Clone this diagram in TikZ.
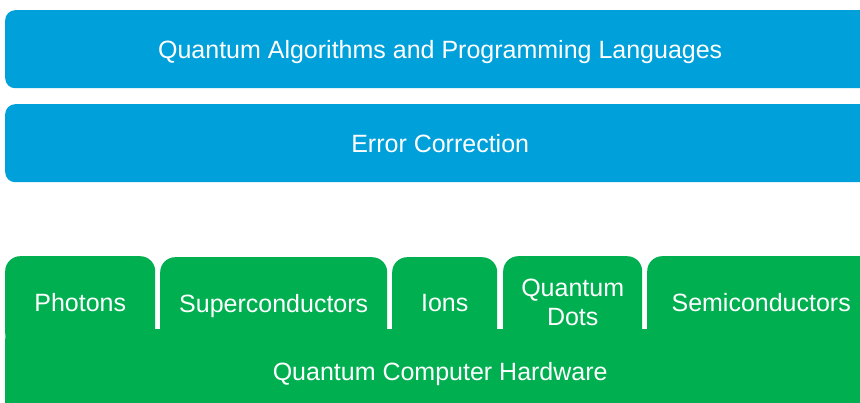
\documentclass[tikz,border=0pt]{standalone}
\usepackage{fontspec}
\setmainfont{Liberation Sans}
\definecolor{qblue}{RGB}{0,160,218}
\definecolor{qgreen}{RGB}{0,176,80}
\begin{document}
\begin{tikzpicture}[x=1pt,y=-1pt,
  lbl/.style={text=white,font=\fontsize{25}{29}\selectfont,align=center,inner sep=0pt},
  bluebox/.style={lbl,fill=qblue,rounded corners=10pt,anchor=north west,minimum width=870pt,minimum height=78pt},
  tab/.style={lbl,fill=qgreen,rounded corners=15pt,anchor=north west,minimum height=92pt},
  bar/.style={lbl,fill=qgreen,rounded corners=10pt,anchor=north west,minimum width=870pt,minimum height=84pt}]
\useasboundingbox (0,0) rectangle (860,403);
\clip (0,0) rectangle (860,403);
\node[bluebox,text depth=0pt] (alg) at (5,10) {Quantum Algorithms and Programming Languages};
\node[bluebox] (err) at (5,104) {Error Correction};
\node[tab,minimum width=150pt] (pho) at (5,256) {Photons};
\node[tab,minimum width=227pt,text depth=0pt] (sup) at (160,257) {Superconductors};
\node[tab,minimum width=105pt] (ion) at (392,257) {Ions};
\node[tab,minimum width=139pt] (qd) at (503,256) {Quantum\\Dots};
\node[tab,minimum width=228pt] (sem) at (647,256) {Semiconductors};
\node[bar,text depth=0pt] (hw) at (5,329) {Quantum Computer Hardware};
\end{tikzpicture}
\end{document}
